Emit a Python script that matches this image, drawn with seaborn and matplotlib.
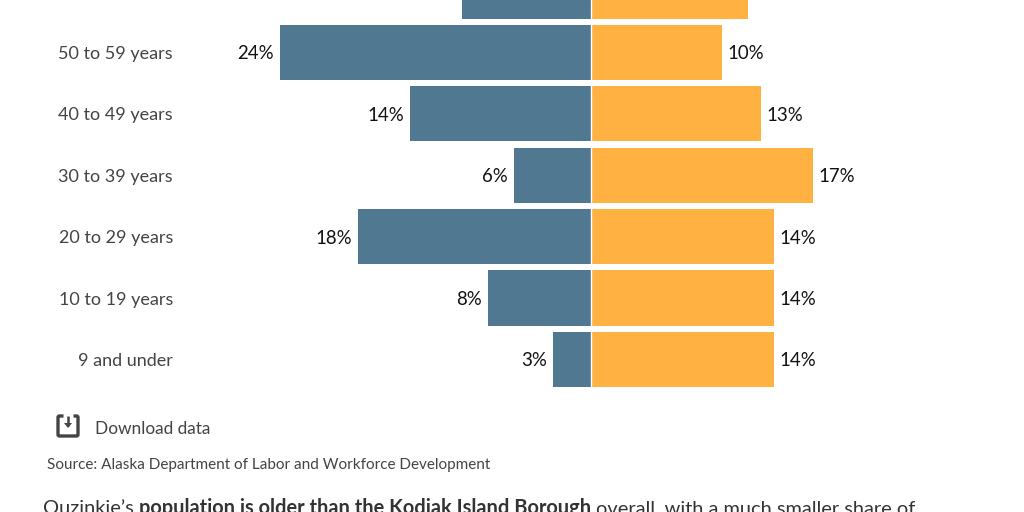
import matplotlib
matplotlib.use("Agg")
import matplotlib.pyplot as plt
import pandas as pd
import seaborn as sns
from matplotlib.patches import FancyBboxPatch

# Share of residents by age group, in percent
age_groups = ["60 to 69 years", "50 to 59 years", "40 to 49 years", "30 to 39 years",
              "20 to 29 years", "10 to 19 years", "9 and under"]
ouzinkie = [10, 24, 14, 6, 18, 8, 3]
borough = [12, 10, 13, 17, 14, 14, 14]

BLUE = "#507891"
ORANGE = "#FFB142"
FONT = "Lato"

sns.set_theme(style="white")
plt.rcParams["font.family"] = [FONT, "DejaVu Sans"]

W, H = 1024, 512
ZERO_PX = 591.7
fig = plt.figure(figsize=(W / 100, H / 100), dpi=100, facecolor="white")
ax = fig.add_axes([0, 0, 1, 1])

left = pd.DataFrame({"age": age_groups, "share": [-v for v in ouzinkie]})
right = pd.DataFrame({"age": age_groups, "share": borough})
sns.barplot(data=left, x="share", y="age", order=age_groups, color=BLUE, saturation=1,
            width=0.9, linewidth=0, ax=ax)
sns.barplot(data=right, x="share", y="age", order=age_groups, color=ORANGE, saturation=1,
            width=0.9, linewidth=0, ax=ax)
ax.axvline(-0.06, color="white", lw=1)

# 13 px per percentage point; rows 61.4 px apart
ax.set_xlim(-ZERO_PX / 13, (W - ZERO_PX) / 13)
ax.set_ylim((H + 9.0) / 61.4, 9.0 / 61.4)
ax.axis("off")

LABEL_PAD = 0.45
for i, (group, a, b) in enumerate(zip(age_groups, ouzinkie, borough)):
    ax.text((173 - ZERO_PX) / 13, i, group, ha="right", va="center_baseline",
            fontsize=12.95, color="#444444")
    ax.text(-a - LABEL_PAD, i, f"{a}%", ha="right", va="center_baseline",
            fontsize=13.4, color="#111111")
    ax.text(b + LABEL_PAD, i, f"{b}%", ha="left", va="center_baseline",
            fontsize=13.4, color="#111111")

# Overlay in pixel units for the footer
ov = fig.add_axes([0, 0, 1, 1], facecolor="none")
ov.set_xlim(0, W)
ov.set_ylim(H, 0)
ov.axis("off")

ov.add_patch(FancyBboxPatch((58, 416), 20, 20, boxstyle="round,pad=0,rounding_size=1.5",
                            fc="none", ec="#444444", lw=2.4))
ov.plot([63, 73], [416, 416], color="white", lw=3.5, solid_capstyle="butt")
ov.plot([68, 68], [416, 426], color="#444444", lw=1.8, solid_capstyle="butt")
ov.fill([64, 72, 68], [423, 423, 428], color="#444444", lw=0)

ov.text(95, 428, "Download data", ha="left", va="center_baseline", fontsize=12.4, color="#444444")
ov.text(47, 463, "Source: Alaska Department of Labor and Workforce Development",
        ha="left", va="center_baseline", fontsize=11.0, color="#444444")

# Sentence below the chart, mixing regular and bold runs
renderer = fig.canvas.get_renderer()
x = 43
for run, weight, gap in [("Ouzinkie\u2019s", "normal", 5),
                         ("population is older than the Kodiak Island Borough", "bold", 5),
                         ("overall, with a much smaller share of", "normal", 0)]:
    t = ov.text(x, 514, run, ha="left", va="baseline", fontsize=14.4, fontweight=weight, color="#333333")
    x = ov.transData.inverted().transform((t.get_window_extent(renderer).x1, 0))[0] + gap

fig.savefig("out.png", dpi=100)
